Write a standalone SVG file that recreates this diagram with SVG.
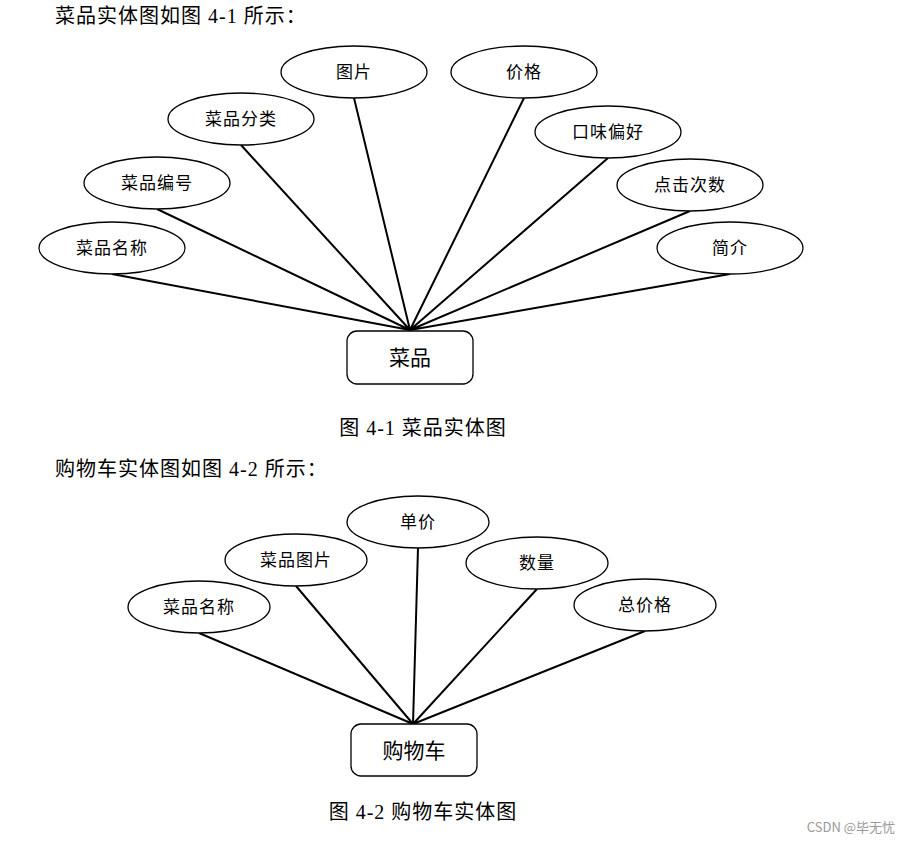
<svg xmlns="http://www.w3.org/2000/svg" width="910" height="843" viewBox="0 0 910 843">
<style>
.e{fill:#fff;stroke:#000;stroke-width:1.3}
.r{fill:#fff;stroke:#000;stroke-width:1.3}
.l{stroke:#000;stroke-width:2;fill:none}
.t{font-family:"Noto Sans CJK SC",sans-serif;font-size:17px;text-anchor:middle;dominant-baseline:central;letter-spacing:1px}
.big{font-family:"Noto Sans CJK SC",sans-serif;font-size:21px;text-anchor:middle;dominant-baseline:central}
.h{font-family:"Liberation Serif","Noto Sans CJK SC",serif;font-size:20px;letter-spacing:1px}
</style>
<rect width="910" height="843" fill="#fff"/>
<text class="h" x="55" y="23">菜品实体图如图 4-1 所示：</text>
<g id="connectors">
<path class="l" d="M112,274L410,330M157,209L410,330M241,145L410,330M354,98L410,330M524,98L410,330M608,158L410,330M690,211L410,330M730,274L410,330"/>
<path class="l" d="M199,633L413,724M296,586L413,724M418,548L413,724M537,589L413,724M645,631L413,724"/>
</g>
<g id="n1"><ellipse class="e" cx="112" cy="248" rx="73" ry="26"/><text class="t" x="112" y="246">菜品名称</text></g>
<g id="n2"><ellipse class="e" cx="157" cy="183" rx="73" ry="26"/><text class="t" x="157" y="181">菜品编号</text></g>
<g id="n3"><ellipse class="e" cx="241" cy="119" rx="73" ry="26"/><text class="t" x="241" y="117">菜品分类</text></g>
<g id="n4"><ellipse class="e" cx="354" cy="72" rx="73" ry="26"/><text class="t" x="354" y="70">图片</text></g>
<g id="n5"><ellipse class="e" cx="524" cy="72" rx="73" ry="26"/><text class="t" x="524" y="70">价格</text></g>
<g id="n6"><ellipse class="e" cx="608" cy="132" rx="73" ry="26"/><text class="t" x="608" y="130">口味偏好</text></g>
<g id="n7"><ellipse class="e" cx="690" cy="185" rx="73" ry="26"/><text class="t" x="690" y="183">点击次数</text></g>
<g id="n8"><ellipse class="e" cx="730" cy="248" rx="73" ry="26"/><text class="t" x="730" y="246">简介</text></g>
<g id="dish"><rect class="r" x="347" y="331" width="126" height="53" rx="10"/><text class="big" x="410" y="356">菜品</text></g>
<text class="h" x="423" y="435" text-anchor="middle">图 4-1 菜品实体图</text>
<text class="h" x="55" y="476">购物车实体图如图 4-2 所示：</text>
<g id="m1"><ellipse class="e" cx="199" cy="607" rx="71" ry="26"/><text class="t" x="199" y="605">菜品名称</text></g>
<g id="m2"><ellipse class="e" cx="296" cy="560" rx="71" ry="26"/><text class="t" x="296" y="558">菜品图片</text></g>
<g id="m3"><ellipse class="e" cx="418" cy="522" rx="71" ry="26"/><text class="t" x="418" y="520">单价</text></g>
<g id="m4"><ellipse class="e" cx="537" cy="563" rx="71" ry="26"/><text class="t" x="537" y="561">数量</text></g>
<g id="m5"><ellipse class="e" cx="645" cy="605" rx="71" ry="26"/><text class="t" x="645" y="603">总价格</text></g>
<g id="cart"><rect class="r" x="351" y="724" width="126" height="52" rx="10"/><text class="big" x="414" y="749">购物车</text></g>
<text class="h" x="423" y="819" text-anchor="middle">图 4-2 购物车实体图</text>
<text x="895" y="832" text-anchor="end" font-family="Noto Sans CJK SC,sans-serif" font-size="13" fill="#999">CSDN @毕无忧</text>
</svg>
